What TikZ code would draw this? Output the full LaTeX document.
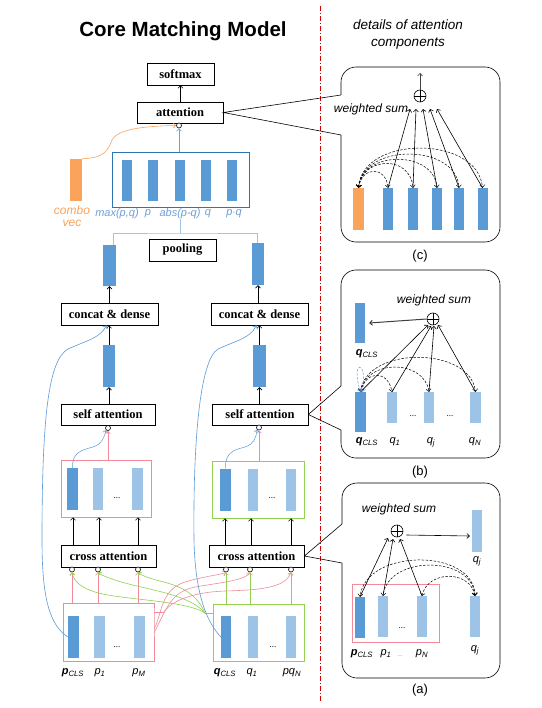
\documentclass[tikz,border=0pt]{standalone}
\usepackage{fontspec}
\setmainfont{Liberation Serif}
\setsansfont{Liberation Sans}
\usetikzlibrary{arrows.meta,calc}
\definecolor{dblue}{HTML}{5B9BD5}
\definecolor{lblue}{HTML}{9DC3E6}
\definecolor{lablue}{HTML}{6F9FD8}
\definecolor{bborder}{HTML}{2E75B6}
\definecolor{orng}{HTML}{F9A35B}
\definecolor{pnk}{HTML}{F28A9A}
\definecolor{grn}{HTML}{92D050}
\definecolor{redl}{HTML}{CC0000}
\begin{document}
\begin{tikzpicture}[x=1pt,y=-1pt,
  box/.style={draw,line width=0.7pt,fill=white,inner sep=0pt,font=\bfseries\fontsize{12.5}{14}\selectfont},
  dbar/.style={fill=dblue,inner sep=0pt,minimum width=11pt,minimum height=42pt},
  lbar/.style={fill=lblue,inner sep=0pt,minimum width=10pt,minimum height=42pt},
  obar/.style={fill=orng,inner sep=0pt,minimum width=11pt,minimum height=42pt},
  circ/.style={circle,draw,inner sep=0pt,minimum size=5pt,line width=0.6pt,fill=white},
  oplus/.style={circle,draw,inner sep=0pt,minimum size=12pt,line width=0.6pt},
  arr/.style={-{Straight Barb[length=2.5pt,width=5pt]},line width=0.6pt},
  darr/.style={{Straight Barb[length=2.5pt,width=5pt]}-{Straight Barb[length=2.5pt,width=5pt]},line width=0.5pt,dashed,dash pattern=on 2.5pt off 1.5pt},
  lab/.style={font=\sffamily\itshape\fontsize{11}{13}\selectfont,inner sep=0pt},
  slab/.style={font=\sffamily\itshape\fontsize{11}{12}\selectfont,inner sep=0pt},
  wsum/.style={font=\sffamily\itshape\fontsize{12}{14}\selectfont,inner sep=0pt},
  plab/.style={font=\sffamily\fontsize{13}{15}\selectfont,inner sep=0pt},
  dots/.style={font=\fontsize{9}{10}\selectfont,inner sep=0pt},
  panel/.style={draw,line width=0.6pt,rounded corners=15pt},
]
\useasboundingbox[fill=white] (0,0) rectangle (541,708);

% ---------- title and divider
\node[font=\sffamily\bfseries\fontsize{20.5}{23}\selectfont] (title) at (183,31) {Core Matching Model};
\coordinate (dtop) at (320,6);
\coordinate (dbot) at (320,702);
\draw[redl,line width=0.8pt,dash pattern=on 5pt off 2pt on 1pt off 2pt] (dtop) -- (dbot);
\node[font=\sffamily\itshape\fontsize{13.5}{16.5}\selectfont,align=center] (hdr) at (408,34.5) {details of attention\\components};

% ---------- boxes
\node[box,minimum width=67pt,minimum height=22pt] (softmax) at (180.5,74) {softmax};
\node[box,minimum width=86pt,minimum height=21pt] (attn) at (180,112.5) {attention};
\node[box,minimum width=67pt,minimum height=22pt] (pool) at (182.5,250) {pooling};
\node[box,minimum width=97pt,minimum height=22pt] (catL) at (109.5,314) {concat \& dense};
\node[box,minimum width=97pt,minimum height=22pt] (catR) at (259.5,314) {concat \& dense};
\node[box,minimum width=94pt,minimum height=21pt] (saL) at (108,414.5) {self attention};
\node[box,minimum width=96pt,minimum height=21pt] (saR) at (260,414.5) {self attention};
\node[box,minimum width=95pt,minimum height=22pt] (caL) at (108.5,556) {cross attention};
\node[box,minimum width=95pt,minimum height=22pt] (caR) at (256.5,556) {cross attention};

\draw[arr] (attn.north -| softmax.south) -- (softmax.south);

% ---------- vector box
\node[draw=bborder,line width=0.7pt,minimum width=137pt,minimum height=55pt,inner sep=0pt] (vec) at (180.5,179.5) {};
\node[dbar,minimum width=10pt,minimum height=41pt] (v1) at (127,180.5) {};
\node[dbar,minimum width=10pt,minimum height=41pt] (v2) at (153,180.5) {};
\node[dbar,minimum width=10pt,minimum height=41pt] (v3) at (180,180.5) {};
\node[dbar,minimum width=10pt,minimum height=41pt] (v4) at (206,180.5) {};
\node[dbar,minimum width=10pt,minimum height=41pt] (v5) at (232,180.5) {};
\node[lab,text=lablue] (l1) at (117,214) {max(p,q)};
\node[lab,text=lablue] (l2) at (148,214) {p};
\node[lab,text=lablue] (l3) at (180,214) {abs(p-q)};
\node[lab,text=lablue] (l4) at (208,214) {q};
\node[lab,text=lablue] (l5) at (234,214) {p$\cdot$q};

\node[obar,minimum width=12pt] (combo) at (76,180) {};
\node[lab,font=\sffamily\itshape\fontsize{12}{11.5}\selectfont,text=orng,align=center] (combolab) at (72,216) {combo\\vec};

\node[circ] (attc) at (179,125.5) {};
\draw[arr,lablue] (vec.north -| attc) -- (attc.south);
\draw[arr,orng] (combo.north east) .. controls (105,158) and (108,150) .. (112,140) .. controls (118,128) and (150,126) .. (attc.west);

% ---------- pooling
\node[dbar,minimum width=13pt,minimum height=41pt] (poolL) at (109.5,265.5) {};
\node[dbar,minimum width=12pt,minimum height=42pt] (poolR) at (258,264) {};
\coordinate (pj) at (180,233);
\draw[lblue,line width=0.7pt] (l3.south) -- (pj);
\draw[lblue,line width=0.7pt] ($(poolL.north)+(3.5,0)$) |- (pj) -| ($(poolR.north)+(-1,0)$);

\draw[arr] (catL.north) -- (poolL.south);
\draw[arr] (catR.north -| poolR) -- (poolR.south);

\node[dbar,minimum width=12pt] (midL) at (109,366) {};
\node[dbar,minimum width=13pt] (midR) at (259.5,366) {};
\draw[arr] (midL.north) -- (midL.north |- catL.south);
\draw[arr] (midR.north) -- (midR.north |- catR.south);
\draw[arr] (saL.north -| midL) -- (midL.south);
\draw[arr] (saR.north -| midR) -- (midR.south);

% ---------- cross attention outputs
\node[draw=pnk,line width=0.7pt,minimum width=90pt,minimum height=57pt,inner sep=0pt] (outL) at (106,488.5) {};
\node[dbar] (cL0) at (72.5,489) {};
\node[lbar] (cL1) at (98,489) {};
\node[lbar,minimum width=11pt] (cL2) at (137.5,489) {};
\node[dots] (cLd) at (117,498) {...};
\node[draw=grn,line width=0.7pt,minimum width=92pt,minimum height=57pt,inner sep=0pt] (outR) at (258,489.5) {};
\node[dbar] (cR0) at (225.5,489.5) {};
\node[lbar] (cR1) at (253,489.5) {};
\node[lbar] (cR2) at (291,489.5) {};
\node[dots] (cRd) at (272,498) {...};

\node[circ] (saLc) at (108,428) {};
\node[circ] (saRc) at (259,427.5) {};
\draw[arr,pnk] (outL.north -| saLc) -- (saLc.south);
\draw[arr,pnk] (outR.north -| saRc) -- (saRc.south);
\draw[arr,dblue,line width=0.5pt] (cL0.north) .. controls (72,452) and (82,450) .. (93,447) .. controls (102,444) and (104,438) .. (saLc.south west);
\draw[arr,dblue,line width=0.5pt] (cR0.north) .. controls (225,452) and (234,450) .. (245,447) .. controls (254,444) and (256,438) .. (saRc.south west);

\foreach \i/\x in {1/73,2/99,3/138} {\draw[arr] (caL.north -| \x,0) -- (outL.south -| \x,0);}
\foreach \i/\x in {1/225,2/251,3/291} {\draw[arr] (caR.north -| \x,0) -- (outR.south -| \x,0);}

% ---------- inputs
\coordinate (pinA) at (63,603);
\coordinate (pinB) at (154,603);
\coordinate (pinC) at (154,612);
\coordinate (pinD) at (164,612);
\coordinate (pinE) at (154,661);
\coordinate (pinF) at (63,661);
\draw[pnk,line width=0.7pt] (pinC) -- (pinD);
\draw[pnk,line width=0.7pt] (pinA) -- (pinB) -- (pinC) -- (pinE) -- (pinF) -- cycle;
\coordinate (ginA) at (213,604);
\coordinate (ginB) at (304,604);
\coordinate (ginC) at (304,661);
\coordinate (ginD) at (213,661);
\coordinate (ginE) at (213,613);
\coordinate (ginF) at (205,613);
\draw[grn,line width=0.7pt] (ginA) -- (ginB) -- (ginC) -- (ginD) -- cycle;
\draw[grn,line width=0.7pt] (ginE) -- (ginF);

\node[dbar] (bL0) at (73.5,637) {};
\node[lbar,minimum width=11pt] (bL1) at (99.5,637) {};
\node[lbar,minimum width=11pt] (bL2) at (139.5,637) {};
\node[dots] (bLd) at (117,647) {...};
\node[dbar,minimum width=10pt] (bR0) at (226,637) {};
\node[lbar] (bR1) at (253,637) {};
\node[lbar] (bR2) at (291,637) {};
\node[dots] (bRd) at (273,647) {...};

\node[slab] (tL0) at (73,673) {{\bfseries p}\textsubscript{CLS}};
\node[slab] (tL1) at (100,673) {p\textsubscript{1}};
\node[slab] (tL2) at (139,673) {p\textsubscript{M}};
\node[slab] (tR0) at (225,673) {{\bfseries q}\textsubscript{CLS}};
\node[slab] (tR1) at (252,673) {q\textsubscript{1}};
\node[slab] (tR2) at (292,673) {pq\textsubscript{N}};

\node[circ] (xL1) at (72,569.5) {};
\node[circ] (xL2) at (98,569.5) {};
\node[circ] (xL3) at (138,569.5) {};
\node[circ] (xR1) at (226,569.5) {};
\node[circ] (xR2) at (250,569.5) {};
\node[circ] (xR3) at (291,569.5) {};

\foreach \n in {xL1,xL2,xL3} {\draw[arr,pnk] (pinA -| \n) -- (\n.south);}
\foreach \n in {xR1,xR2,xR3} {\draw[arr,grn] (ginA -| \n) -- (\n.south);}

% green curves from q box to left circles
\draw[arr,grn,line width=0.6pt] (ginF) .. controls (185,600) and (120,600) .. (95,592) .. controls (82,588) and (74,582) .. (xL1.south);
\draw[arr,grn,line width=0.6pt] (ginF) .. controls (190,595) and (150,590) .. (125,583) .. controls (110,579) and (101,575) .. (xL2.south);
\draw[arr,grn,line width=0.6pt] (ginF) .. controls (195,590) and (175,585) .. (160,581) .. controls (148,578) and (141,575) .. (xL3.south);
% pink curves from p box to right circles
\draw[arr,pnk,line width=0.6pt] ($(pinE)+(0,-32)$) .. controls (162,615) and (160,590) .. (185,582) .. controls (205,576) and (220,575) .. (xR1.south);
\draw[arr,pnk,line width=0.6pt] ($(pinE)+(0,-28)$) .. controls (168,605) and (172,592) .. (195,587) .. controls (225,582) and (245,580) .. (xR2.south);
\draw[arr,pnk,line width=0.6pt] (pinD) .. controls (172,600) and (195,592) .. (225,591) .. controls (260,590) and (285,588) .. (xR3.south);

% long blue skip connections
\draw[arr,dblue,line width=0.6pt] (bL0.west) .. controls (50,625) and (42,600) .. (42,540) .. controls (42,420) and (48,360) .. (68,349) .. controls (88,340) and (100,338) .. ($(catL.south)+(-3,0)$);
\draw[arr,dblue,line width=0.6pt] (bR0.west) .. controls (205,620) and (195,590) .. (194,540) .. controls (193,440) and (200,360) .. (218,349) .. controls (238,340) and (250,338) .. ($(catR.south)+(-3,0)$);

% ================= panel (c)
\coordinate (cU) at (341,95);
\coordinate (cD) at (341,135);
\draw[panel] (cU) -- (341,67) -- (500,67) -- (500,242) -- (341,242) -- (cD);
\draw[line width=0.6pt] (cU) -- (attn.east) -- (cD);
\node[oplus] (cop) at (420,96) {};
\draw[line width=0.6pt] (cop.north) -- (cop.south) (cop.west) -- (cop.east);
\coordinate (cout) at (420,73);
\draw[arr,darkgray] (cop.north) -- (cout);
\node[wsum] (cws) at (371,109) {weighted sum};
\node[obar] (c0) at (358.5,209) {};
\node[dbar,minimum width=10pt] (c1) at (388,209) {};
\node[dbar,minimum width=10pt] (c2) at (413,209) {};
\node[dbar,minimum width=10pt] (c3) at (437,209) {};
\node[dbar,minimum width=10pt] (c4) at (459,209) {};
\node[dbar,minimum width=10pt] (c5) at (482.5,209) {};
\draw[arr] (c1.north) -- (410,109);
\draw[arr] (c2.north) -- (416,109);
\draw[arr] (c3.north) -- (423,109);
\draw[arr] (c4.north) -- (430,109);
\draw[arr] (c5.north) -- (437,109);
\draw[darr] (c0.north) .. controls (362,166) and (386,166) .. (c1.north);
\draw[darr] (c0.north) .. controls (362,157) and (410,154) .. (c2.north);
\draw[darr] (c0.north) .. controls (362,150) and (434,150) .. (c3.north);
\draw[darr] (c0.north) .. controls (362,143) and (456,143) .. (c4.north);
\draw[darr] (c0.north) .. controls (362,135) and (478,135) .. (c5.north);
\node[plab] (cl) at (420,256) {(c)};

% ================= panel (b)
\coordinate (bU) at (341,386);
\coordinate (bD) at (341,430);
\draw[panel] (bU) -- (341,270) -- (500,270) -- (500,458) -- (341,458) -- (bD);
\draw[line width=0.6pt] (bU) -- (saR.east) -- (bD);
\node[wsum] (bws) at (434,300) {weighted sum};
\node[oplus] (bop) at (433,319) {};
\draw[line width=0.6pt] (bop.north) -- (bop.south) (bop.west) -- (bop.east);
\node[dbar,minimum width=10pt,minimum height=40pt] (bu) at (360,323) {};
\node[slab] (bul) at (367,354) {{\bfseries q}\textsubscript{CLS}};
\draw[arr,darkgray,line width=1pt] (bop.west) -- ($(bu.east)+(4,0)$);
\node[dbar,minimum height=40pt] (b0) at (360.5,412) {};
\node[lbar,minimum height=31pt] (b1) at (392,407.5) {};
\node[lbar,minimum height=31pt] (b2) at (429,407.5) {};
\node[lbar,minimum width=11pt,minimum height=31pt] (b3) at (475.5,407.5) {};
\node[dots] (bd1) at (413,416) {...};
\node[dots] (bd2) at (450,416) {...};
\node[slab] (bl0) at (367,442) {{\bfseries q}\textsubscript{CLS}};
\node[slab] (bl1) at (395,442) {q\textsubscript{1}};
\node[slab] (bl2) at (431,442) {q\textsubscript{j}};
\node[slab] (bl3) at (475,442) {q\textsubscript{N}};
\draw[arr] (b0.north) -- (428,325);
\draw[arr] (b1.north) -- (431,326);
\draw[arr] (b2.north) -- (434,326);
\draw[arr] (b3.north) -- (438,325);
\draw[darr] (b0.north) .. controls (366,370) and (388,370) .. (b1.north);
\draw[darr] (b0.north) .. controls (366,359) and (424,359) .. (b2.north);
\draw[darr] (b0.north) .. controls (366,346) and (470,346) .. (b3.north);
\draw[darr,lablue] (b0.north) .. controls (350,360) and (368,358) .. ($(b0.north)+(2,0)$);
\node[plab] (bl) at (420,472) {(b)};

% ================= panel (a)
\coordinate (aU) at (342,524);
\coordinate (aD) at (342,563);
\draw[panel] (aU) -- (342,483) -- (500,483) -- (500,678) -- (342,678) -- (aD);
\draw[line width=0.6pt] (aU) -- (caR.east) -- (aD);
\node[wsum] (aws) at (399,509) {weighted sum};
\node[oplus] (aop) at (397,531) {};
\draw[line width=0.6pt] (aop.north) -- (aop.south) (aop.west) -- (aop.east);
\node[lbar,minimum height=42pt] (aq) at (477,531) {};
\node[slab] (aql) at (477,561) {q\textsubscript{j}};
\draw[arr] ($(aop.east)+(3,4)$) -- ($(aq.west)+(-2,5)$);
\node[draw=pnk,line width=0.6pt,minimum width=87pt,minimum height=58pt,inner sep=0pt] (abox) at (395.5,613) {};
\node[dbar,minimum width=10pt,minimum height=41pt] (a0) at (360,617.5) {};
\node[lbar,minimum height=41pt] (a1) at (383,616.5) {};
\node[lbar,minimum height=41pt] (a2) at (422,616.5) {};
\node[dots] (ad) at (402,628) {...};
\node[lbar,minimum height=41pt] (ar) at (475,616.5) {};
\node[slab] (al0) at (362,654) {{\bfseries p}\textsubscript{CLS}};
\node[slab] (al1) at (386,654) {p\textsubscript{1}};
\node[font=\fontsize{6}{7}\selectfont,text=gray] (ald) at (400,656) {...};
\node[slab] (al2) at (422,654) {p\textsubscript{N}};
\node[slab] (arl) at (475,650) {q\textsubscript{j}};
\draw[arr] (a0.north) -- (388,538);
\draw[arr] (a1.north) -- (393,539);
\draw[arr] (a2.north) -- (400,539);
\draw[darr] (ar.north) .. controls (470,570) and (428,570) .. (a2.north);
\draw[darr] (ar.north) .. controls (472,555) and (388,555) .. (a1.north);
\draw[darr] (ar.north) .. controls (474,548) and (366,548) .. (a0.north);
\node[plab] (al) at (420,690) {(a)};
\end{tikzpicture}
\end{document}
